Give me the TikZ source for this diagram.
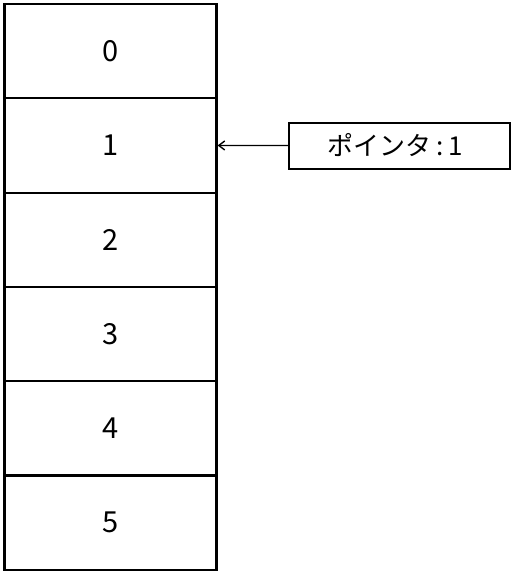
\documentclass[tikz,border=0pt]{standalone}
\usepackage{fontspec}
\setmainfont{Noto Sans CJK JP}
\usetikzlibrary{arrows.meta}

\begin{document}
\begin{tikzpicture}[x=1pt, y=-1pt,
    cellule/.style={draw, line width=2.2pt, minimum width=212pt, minimum height=94.3pt, inner sep=0pt, font=\fontsize{29}{32}\selectfont},
    etiquette/.style={draw, line width=2pt, minimum width=221pt, minimum height=46pt, inner sep=0pt, font=\fontsize{26}{30}\selectfont},
    fleche/.style={-{Straight Barb[length=6pt, width=9pt]}, line width=1.4pt}]
    \useasboundingbox (0,0) rectangle (514,573);
    % Cases
    \foreach \i in {0,...,5}
      \node[cellule] (c\i) at (110.5, 51.15+94.3*\i) {\i};
    % Pointeur
    \node[etiquette] (p) at (399.5,145.5) {\hspace{-8pt}ポインタ\hspace{5pt}:\hspace{5pt}1};
    % Flèche
    \draw[fleche] (p.west) -- (c1.east);
\end{tikzpicture}
\end{document}
